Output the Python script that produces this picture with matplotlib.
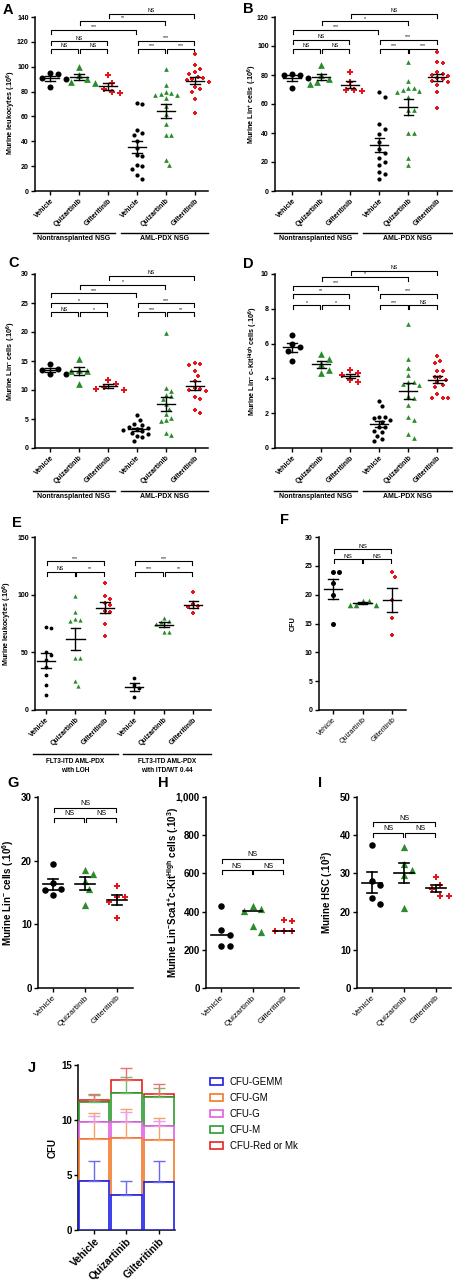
import numpy as np
import matplotlib
matplotlib.use("Agg")
import matplotlib.pyplot as plt
import matplotlib.transforms as mtransforms
from matplotlib.patches import Patch

plt.rcParams['font.family'] = ['Liberation Sans', 'DejaVu Sans']
plt.rcParams['mathtext.fontset'] = 'custom'
plt.rcParams['mathtext.rm'] = 'Liberation Sans:bold'
plt.rcParams['mathtext.it'] = 'Liberation Sans:bold'
plt.rcParams['mathtext.bf'] = 'Liberation Sans:bold'
plt.rcParams['mathtext.default'] = 'rm'

# ---------------- data ----------------
treatments = ['Vehicle', 'Quizartinib', 'Gilteritinib']
cats6 = treatments * 2
cohorts_ABCD = ['Nontransplanted NSG', 'AML-PDX NSG']
cohorts_E = ['FLT3-ITD AML-PDX\nwith LOH', 'FLT3-ITD AML-PDX\nwith ITD/WT 0.44']

leuko_A = [
    [95, 94, 91, 90, 84],
    [100, 93, 90, 88, 87],
    [93, 87, 82, 80, 79],
    [71, 70, 49, 47, 45, 40, 35, 29, 28, 21, 20, 18, 13, 10],
    [98, 85, 80, 79, 78, 77, 77, 75, 68, 62, 54, 45, 45, 25, 21],
    [110, 101, 98, 96, 94, 92, 91, 90, 89, 88, 84, 82, 80, 74, 63],
]
sig_A = [(0, 1, 114.5, 'NS'), (1, 2, 114.5, 'NS'), (3, 4, 114.5, '***'), (4, 5, 114.5, '***'),
         (0, 2, 120.6, 'NS'), (3, 5, 120.6, '***'), (0, 3, 129.8, '***'), (1, 4, 136.7, '**'),
         (2, 5, 142.6, 'NS')]

linpos_B = [
    [81, 80, 80, 78, 71],
    [87, 80, 77, 75, 74],
    [82, 75, 70, 70, 69],
    [68, 65, 46, 43, 39, 34, 29, 26, 23, 20, 18, 13, 11.5, 8],
    [89, 76, 71, 71, 70, 69, 68, 65, 56, 56, 40, 40, 23, 18],
    [96, 89, 88, 82, 81, 80, 79, 78, 77, 76, 75, 73, 68, 57],
]
sig_B = [(0, 1, 98.2, 'NS'), (1, 2, 98.2, 'NS'), (3, 4, 98.2, '***'), (4, 5, 98.2, '***'),
         (0, 2, 104.4, 'NS'), (3, 5, 104.4, '***'), (0, 3, 111.3, '***'), (1, 4, 117.0, '*'),
         (2, 5, 122.3, 'NS')]

linneg_C = [
    [14.4, 13.6, 13.5, 12.8, 12.7],
    [15.3, 13.4, 13.3, 13.2, 11.1],
    [11.7, 11.1, 10.5, 10.2, 10.0],
    [5.7, 4.8, 4.1, 3.9, 3.6, 3.4, 3.3, 3.1, 2.9, 2.6, 2.4, 2.0, 1.9, 1.2],
    [19.8, 10.3, 9.9, 9.2, 8.9, 8.4, 7.6, 6.7, 5.8, 5.2, 4.8, 4.7, 2.6, 2.2],
    [14.7, 14.4, 14.3, 13.2, 12.4, 11.6, 10.3, 9.8, 10.2, 10.0, 8.8, 8.4, 6.5, 6.1],
]
sig_C = [(0, 1, 23.4, 'NS'), (1, 2, 23.4, '*'), (3, 4, 23.4, '***'), (4, 5, 23.4, '**'),
         (0, 2, 24.95, '*'), (3, 5, 24.95, '***'), (0, 3, 26.7, '***'), (1, 4, 28.1, '*'),
         (2, 5, 29.7, 'NS')]

ckit_D = [
    [6.5, 6.0, 5.8, 5.6, 5.0],
    [5.4, 5.1, 4.8, 4.5, 4.3],
    [4.5, 4.3, 4.2, 3.9, 3.8],
    [2.7, 2.4, 1.8, 1.8, 1.7, 1.6, 1.5, 1.2, 1.2, 1.0, 0.9, 0.7, 0.5, 0.4],
    [7.1, 5.1, 4.6, 4.2, 3.8, 3.8, 3.7, 3.6, 3.0, 2.9, 2.5, 1.8, 1.6, 0.8, 0.6],
    [5.3, 5.0, 4.9, 4.4, 4.4, 4.1, 4.1, 3.9, 3.8, 3.6, 3.5, 3.1, 2.9, 2.9, 2.9],
]
sig_D = [(0, 1, 8.2, '*'), (1, 2, 8.2, '*'), (3, 4, 8.2, '***'), (4, 5, 8.2, 'NS'),
         (0, 2, 8.85, '**'), (3, 5, 8.85, '***'), (0, 3, 9.33, '***'), (1, 4, 9.84, '*'),
         (2, 5, 10.2, 'NS')]

leuko_E = [
    [72, 71, 50, 48, 43, 37, 30, 22, 13],
    [99, 85, 79, 78, 77, 45, 45, 25, 21],
    [110, 99, 96, 93, 91, 86, 85, 75, 64],
    [28, 22, 19, 11],
    [80, 77, 76, 75, 68, 68],
    [102, 92, 90, 89, 84],
]
sig_E = [(0, 1, 120, 'NS'), (1, 2, 120, '**'), (0, 2, 129, '***'),
         (3, 4, 120, '***'), (4, 5, 120, '**'), (3, 5, 129, '***')]

cfu_F = [
    [24, 24, 22, 20, 15],
    [18.9, 18.9, 18.2, 18.2, 18.2],
    [24, 23, 19, 16, 13],
]
sig_F = [(0, 1, 26.1, 'NS'), (1, 2, 26.1, 'NS'), (0, 2, 27.85, 'NS')]

linneg_G = [
    [19.5, 16.5, 15.6, 15.4, 14.6],
    [18.6, 17.9, 16.8, 15.6, 13.1],
    [16.0, 14.3, 14.3, 13.5, 11.0],
]
sig_G = [(0, 1, 26.7, 'NS'), (1, 2, 26.7, 'NS'), (0, 2, 28.3, 'NS')]

lsk_H = [
    [428, 306, 280, 218, 218],
    [428, 416, 403, 325, 291],
    [358, 350, 300, 296, 296],
]
sig_H = [(0, 1, 616, 'NS'), (1, 2, 616, 'NS'), (0, 2, 677, 'NS')]

hsc_I = [
    [37.5, 28, 27, 23.5, 22],
    [37, 32.5, 31, 29.5, 21],
    [29, 27, 26, 24.2, 24.2],
]
sig_I = [(0, 1, 40.6, 'NS'), (1, 2, 40.6, 'NS'), (0, 2, 43.4, 'NS')]

cfu_types = ['CFU-GEMM', 'CFU-GM', 'CFU-G', 'CFU-M', 'CFU-Red or Mk']
cfu_gemm = [4.5, 3.2, 4.4]
cfu_gm = [3.8, 5.2, 3.8]
cfu_g = [1.5, 1.45, 1.25]
cfu_m = [1.8, 2.6, 2.6]
cfu_red = [0.2, 1.15, 0.35]
err_gemm = [1.75, 1.3, 1.85]
err_gm = [2.3, 2.6, 2.0]
err_g = [0.6, 0.9, 0.5]
err_m = [0.7, 1.45, 0.9]
err_red = [0.6, 1.15, 0.85]

# ---------------- styling ----------------
W, H = 453, 1280
fig = plt.figure(figsize=(W / 100, H / 100), dpi=100)

tcolors = ['black', '#2a8c2a', '#e8141c']
tmarkers = ['o', '^', 'P']

boxes = {
    'A': (35, 208, 17, 191),
    'B': (275, 452, 17, 191),
    'C': (35, 208, 274, 448),
    'D': (275, 452, 274, 448),
    'E': (35, 211, 537, 710),
    'F': (319, 406, 537, 710),
    'G': (38, 133, 797, 988),
    'H': (206, 299, 797, 988),
    'I': (357, 451, 797, 988),
    'J': (78, 175, 1065, 1230),
}

small = dict(tick=5, ylab=5.2, cat=5, catw='bold', sig=3.8, lw=1.0)
smallF = dict(tick=5, ylab=5.2, cat=5, catw='normal', sig=4.6, lw=1.0)
large = dict(tick=7, ylab=7.0, cat=6, catw='normal', sig=5.2, lw=1.2)


def swarm_offsets(vals, ppy, d):
    ys = np.asarray(vals, float) * ppy
    order = np.argsort(-ys, kind='stable')
    placed = []
    offs = np.zeros(len(ys))
    cands = [0.0]
    for k in range(1, 14):
        cands += [k * d / 2, -k * d / 2]
    for i in order:
        for c in cands:
            if all((c - px) ** 2 + (ys[i] - py) ** 2 >= (0.97 * d) ** 2 for px, py in placed):
                offs[i] = c
                placed.append((c, ys[i]))
                break
    return offs


def make_axes(key, xlim, ylim):
    l, r, t, b = boxes[key]
    ax = fig.add_axes([l / W, 1 - b / H, (r - l) / W, (b - t) / H])
    ax.set_xlim(xlim)
    ax.set_ylim(ylim)
    for s in ['top', 'right']:
        ax.spines[s].set_visible(False)
    for s in ['left', 'bottom']:
        ax.spines[s].set_linewidth(1.1)
    ax.tick_params(axis='both', direction='out', length=3, width=1.0, pad=1.5)
    ppx = (r - l) / (xlim[1] - xlim[0])
    ppy = (b - t) / (ylim[1] - ylim[0])
    return ax, ppx, ppy, (r - l)


def scatter_panel(key, groups, labels, ylim, yticks, yticklabels, xlim, ylabel, lab_off,
                  sig, diams, sty, stat='mean', ylabel_y=0.5):
    ax, ppx, ppy, wpx = make_axes(key, xlim, ylim)
    for i, vals in enumerate(groups):
        t = i % 3
        d = diams[i]
        offs = swarm_offsets(vals, ppy, d * 1.3) / ppx
        s = (d * 0.72) ** 2 * (1.25 if tmarkers[t] == '^' else 1.0)
        ax.scatter(i + offs, vals, marker=tmarkers[t], s=s, c=tcolors[t], linewidths=0,
                   zorder=3, clip_on=False)
        v = np.asarray(vals, float)
        if stat == 'mean':
            m = v.mean()
            se = v.std(ddof=1) / np.sqrt(len(v))
            ax.plot([i - 0.31, i + 0.31], [m, m], color='k', lw=sty['lw'], zorder=4)
            ax.plot([i, i], [m - se, m + se], color='k', lw=sty['lw'], zorder=4)
            for yy in (m - se, m + se):
                ax.plot([i - 0.16, i + 0.16], [yy, yy], color='k', lw=sty['lw'], zorder=4)
        else:
            m = np.median(v)
            ax.plot([i - 0.31, i + 0.31], [m, m], color='k', lw=sty['lw'], zorder=4)
    ax.set_yticks(yticks)
    ax.set_yticklabels(yticklabels, fontsize=sty['tick'], fontweight='bold')
    ax.set_xticks(range(len(groups)))
    ax.set_xticklabels(labels, rotation=45, ha='right', rotation_mode='anchor',
                       fontsize=sty['cat'], fontweight=sty['catw'])
    ax.set_ylabel(ylabel, fontsize=sty['ylab'], fontweight='bold', va='center')
    ax.yaxis.set_label_coords(-lab_off / wpx, ylabel_y)
    tick = 4.0 / ppy
    for x1, x2, y, lab in sig:
        a, b = x1 + 0.03, x2 - 0.03
        ax.plot([a, a, b, b], [y - tick, y, y, y - tick], color='k', lw=0.8, clip_on=False)
        ax.text((x1 + x2) / 2, y + 0.6 / ppy, lab, ha='center', va='bottom',
                fontsize=sty['sig'], clip_on=False)
    return ax


def cohort_labels(ax, spans, labels, yline, ytext, fs):
    trans = mtransforms.blended_transform_factory(ax.transData, ax.transAxes)
    for (x0, x1), lab in zip(spans, labels):
        ax.plot([x0, x1], [yline, yline], transform=trans, color='k', lw=1.0, clip_on=False)
        ax.text((x0 + x1) / 2, ytext, lab, transform=trans, ha='center', va='top',
                fontsize=fs, fontweight='bold', linespacing=1.35)


def letter(txt, x, y):
    fig.text(x / W, 1 - y / H, txt, fontsize=10.5, fontweight='bold', ha='left', va='center')


d_abcd = [6, 6, 6, 4.2, 4.2, 4.2]

axA = scatter_panel('A', leuko_A, cats6, (0, 140), range(0, 141, 20),
                    [str(v) for v in range(0, 141, 20)], (-0.52, 5.45),
                    'Murine leukocytes (.10$^{6}$)', 24, sig_A, d_abcd, small, ylabel_y=0.45)
cohort_labels(axA, [(-0.6, 2.25), (2.45, 5.45)], cohorts_ABCD, -0.24, -0.255, 5)

axB = scatter_panel('B', linpos_B, cats6, (0, 120), range(0, 121, 20),
                    [str(v) for v in range(0, 121, 20)], (-0.59, 5.5),
                    'Murine Lin$^{+}$ cells (.10$^{6}$)', 23, sig_B, d_abcd, small)
cohort_labels(axB, [(-0.62, 2.24), (2.45, 5.5)], cohorts_ABCD, -0.24, -0.255, 5)

axC = scatter_panel('C', linneg_C, cats6, (0, 30), range(0, 31, 5),
                    [str(v) for v in range(0, 31, 5)], (-0.52, 5.45),
                    'Murine Lin$^{-}$ cells (.10$^{6}$)', 24, sig_C, d_abcd, small)
cohort_labels(axC, [(-0.6, 2.25), (2.45, 5.45)], cohorts_ABCD, -0.245, -0.26, 5)

axD = scatter_panel('D', ckit_D, cats6, (0, 10), range(0, 11, 2),
                    [str(v) for v in range(0, 11, 2)], (-0.59, 5.5),
                    'Murine Lin$^{-}$ c-Kit$^{High}$ cells (.10$^{6}$)', 22, sig_D, d_abcd, small)
cohort_labels(axD, [(-0.62, 2.24), (2.45, 5.5)], cohorts_ABCD, -0.245, -0.26, 5)

axE = scatter_panel('E', leuko_E, cats6, (0, 150), [0, 50, 100, 150],
                    ['0', '50', '100', '150'], (-0.37, 5.6),
                    'Murine leukocytes (.10$^{6}$)', 28, sig_E, [3.8] * 6, small)
cohort_labels(axE, [(-0.44, 2.45), (2.62, 5.6)], cohorts_E, -0.254, -0.28, 4.7)

axF = scatter_panel('F', cfu_F, treatments, (0, 30), range(0, 31, 5),
                    [str(v) for v in range(0, 31, 5)], (-0.47, 2.47),
                    'CFU', 26, sig_F, [5] * 3, smallF)

axG = scatter_panel('G', linneg_G, treatments, (0, 30), [0, 10, 20, 30],
                    ['0', '10', '20', '30'], (-0.47, 2.5),
                    'Murine Lin$^{-}$ cells (.10$^{6}$)', 30, sig_G, [6.5] * 3, large)

axH = scatter_panel('H', lsk_H, treatments, (0, 1000), range(0, 1001, 200),
                    ['0', '200', '400', '600', '800', '1,000'], (-0.48, 2.48),
                    'Murine Lin$^{-}$Sca1$^{+}$c-Kit$^{High}$ cells (.10$^{3}$)', 33, sig_H,
                    [6.5] * 3, large, stat='median')

axI = scatter_panel('I', hsc_I, treatments, (0, 50), range(0, 51, 10),
                    [str(v) for v in range(0, 51, 10)], (-0.47, 2.47),
                    'Murine HSC (.10$^{3}$)', 30, sig_I, [6.5] * 3, large)

# ---------------- J: stacked CFU bars ----------------
axJ, ppxJ, ppyJ, wJ = make_axes('J', (-0.5, 2.5), (0, 15))
segs = [cfu_gemm, cfu_gm, cfu_g, cfu_m, cfu_red]
errs = [err_gemm, err_gm, err_g, err_m, err_red]
seg_colors = ['#1c1ce6', '#f2782a', '#e35fe3', '#2e9a2e', '#e8231f']
err_colors = ['#6a6af0', '#f5a36a', '#ef9bef', '#6cbf6c', '#f07070']
xJ = np.arange(3)
bottoms = [np.zeros(3)]
for sv in segs[:-1]:
    bottoms.append(bottoms[-1] + np.asarray(sv))
for k in range(len(segs)):
    axJ.bar(xJ, segs[k], bottom=bottoms[k], width=0.93, facecolor='white',
            edgecolor=seg_colors[k], linewidth=1.2, zorder=10 - k)
for k in range(len(segs)):
    tops = bottoms[k] + np.asarray(segs[k])
    axJ.errorbar(xJ, tops, yerr=[np.zeros(3), errs[k]], fmt='none', ecolor=err_colors[k],
                 elinewidth=1.0, capsize=4.5, capthick=1.0, zorder=20)
axJ.set_yticks([0, 5, 10, 15])
axJ.set_yticklabels(['0', '5', '10', '15'], fontsize=7, fontweight='bold')
axJ.set_xticks(xJ)
axJ.set_xticklabels(treatments, rotation=45, ha='right', rotation_mode='anchor',
                    fontsize=7.5, fontweight='bold')
axJ.set_ylabel('CFU', fontsize=7, fontweight='bold', va='center')
axJ.yaxis.set_label_coords(-25 / wJ, 0.5)
handles = [Patch(facecolor='white', edgecolor=c, linewidth=1.2) for c in seg_colors]
fig.legend(handles, cfu_types, loc='upper left', bbox_to_anchor=(202 / W, 1 - 1069 / H),
           frameon=False, fontsize=7, handlelength=1.35, handleheight=0.65,
           labelspacing=0.62, handletextpad=0.7, borderpad=0.3)

# ---------------- panel letters ----------------
for txt, x, y in [('A', 3, 10), ('B', 243, 9), ('C', 8, 263), ('D', 243, 264),
                  ('E', 12, 523), ('F', 280, 520), ('G', 7, 783), ('H', 158, 783),
                  ('I', 318, 783), ('J', 28, 1068)]:
    letter(txt, x, y)

fig.savefig('out.png', dpi=100)
